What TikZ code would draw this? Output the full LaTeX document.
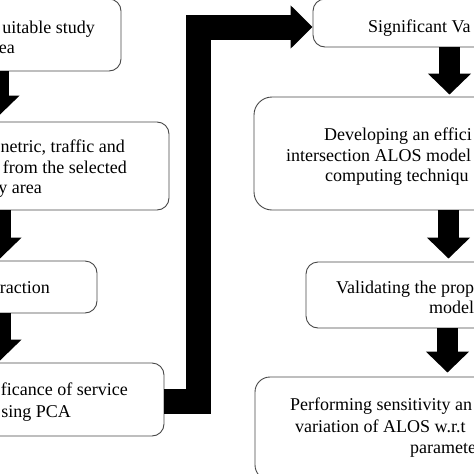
\documentclass[tikz,border=0pt]{standalone}
\usepackage{fontspec}
\setmainfont{Liberation Serif}
\usetikzlibrary{arrows.meta}
\begin{document}
\begin{tikzpicture}[x=1pt,y=-1pt,
  box/.style={draw=black!72, line width=0.9pt, rounded corners=12pt, rectangle, inner sep=0pt},
  txt/.style={inner sep=0pt, font=\fontsize{18}{20.5}\selectfont},
  blockarrow/.style={line width=21pt, -{Triangle[length=21pt,width=42pt]}},
  bigarrow/.style={line width=25pt, line join=miter, -{Triangle[length=22pt,width=42pt]}}]
\useasboundingbox (0,0) rectangle (474,474);
\clip (0,0) rectangle (474,474);
% boxes
\node[box, minimum width=271pt, minimum height=72pt] (b1) at (-14.5,35) {};
\node[box, minimum width=339pt, minimum height=88pt] (b2) at (-0.5,166) {};
\node[box, minimum width=197pt, minimum height=52pt] (b3) at (-1.5,287) {};
\node[box, minimum width=314pt, minimum height=73pt] (b4) at (7,399.5) {};
\node[box, minimum width=287pt, minimum height=48pt] (b5) at (456.5,23) {};
\node[box, rounded corners=18pt, minimum width=396pt, minimum height=113pt] (b6) at (452,153.5) {};
\node[box, minimum width=294pt, minimum height=66pt] (b7) at (453,295) {};
\node[box, rounded corners=15pt, minimum width=395pt, minimum height=103pt] (b8) at (452.5,428.5) {};
% texts
\node[txt, anchor=base east] (t11) at (95,33) {uitable study};
\node[txt, anchor=base east] (t12) at (15,53) {ea};
\node[txt, anchor=base east] (t21) at (125,152) {netric, traffic and};
\node[txt, anchor=base east] (t22) at (127,173) {from the selected};
\node[txt, anchor=base east] (t23) at (42,193) {y area};
\node[txt, anchor=base east] (t31) at (50,293) {raction};
\node[txt, anchor=base east] (t41) at (128,395) {ficance of service};
\node[txt, anchor=base east] (t42) at (71,417) {sing PCA};
\node[txt, anchor=base west] (t51) at (368,32) {Significant Va};
\node[txt, anchor=base west] (t61) at (324,140) {Developing an effici};
\node[txt, anchor=base west] (t62) at (286,161) {intersection ALOS model};
\node[txt, anchor=base west] (t63) at (325,181) {computing techniqu};
\node[txt, anchor=base west] (t71) at (336,293) {Validating the prop};
\node[txt, anchor=base west] (t72) at (429,313) {model};
\node[txt, anchor=base west] (t81) at (290,410) {Performing sensitivity an};
\node[txt, anchor=base west] (t82) at (295,432) {variation of ALOS w.r.t};
\node[txt, anchor=base west] (t83) at (410,453) {paramete};
% arrow axes
\coordinate (ax1) at (-2,0);
\coordinate (ax2) at (0,0);
\coordinate (ax4) at (449.5,0);
\coordinate (ax5) at (448.5,0);
\coordinate (ax6) at (447.5,0);
\coordinate (bend) at (198.5,27);
% connectors
\draw[blockarrow] (b1.south -| ax1) -- ([yshift=5pt]b2.north -| ax1);
\draw[blockarrow] (b2.south -| ax2) -- ([yshift=2pt]b3.north -| ax2);
\draw[blockarrow] (b3.south -| ax2) -- ([yshift=2pt]b4.north -| ax2);
\draw[blockarrow] (b5.south -| ax4) -- ([yshift=2pt]b6.north -| ax4);
\draw[blockarrow] (b6.south -| ax5) -- ([yshift=3pt]b7.north -| ax5);
\draw[blockarrow] (b7.south -| ax6) -- ([yshift=4pt]b8.north -| ax6);
\draw[bigarrow] ([yshift=-1.5pt]b4.east) -| (bend) -- ([yshift=-4pt]b5.west);
\end{tikzpicture}
\end{document}
